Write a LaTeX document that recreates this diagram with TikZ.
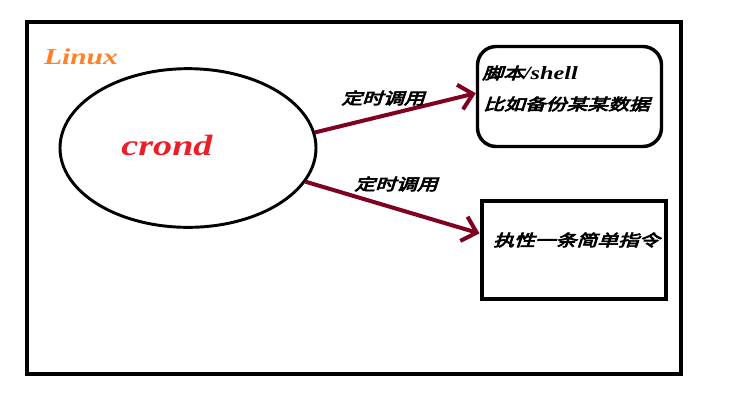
\documentclass[tikz,border=0pt]{standalone}
\usepackage{fontspec}
\setmainfont{Liberation Serif}
\newfontfamily\cjk[FakeSlant=0.25,FakeBold=4]{Noto Sans CJK SC}
\usetikzlibrary{shapes.geometric,arrows.meta}
\definecolor{callred}{RGB}{128,0,32}
\definecolor{linuxorange}{RGB}{255,128,40}
\definecolor{crondred}{RGB}{235,30,40}
\newcommand{\wide}[1]{\scalebox{1.3}[1]{#1}}

\begin{document}
\begin{tikzpicture}[x=0.75pt,y=0.75pt,yscale=-1,xscale=1,
  calltext/.style={inner sep=0.75pt,font=\fontsize{12}{14}\selectfont\cjk},
  call/.style={draw=callred,line width=3pt,-{Straight Barb[length=10pt,width=19pt,line width=3pt]}}]
\useasboundingbox (0,0) rectangle (745,419);

%Shape: Rectangle [id:linux]
\draw [line width=3pt] (27,22) rectangle (681,374) ;

%Shape: Ellipse [id:crond]
\node (crond) [draw,ellipse,line width=2.2pt,minimum width=192pt,minimum height=119pt,inner sep=0pt] at (188,148) {} ;
%Shape: Rounded Rect [id:script]
\node (script) [draw,rounded corners=14pt,line width=2.6pt,minimum width=138pt,minimum height=75pt,inner sep=0pt] at (569.5,96.5) {} ;
%Shape: Rectangle [id:cmd]
\node (cmd) [draw,line width=3pt,minimum width=138pt,minimum height=73pt,inner sep=0pt] at (573.5,250) {} ;

%Straight Lines [id:call1]
\draw [call] (crond.7) -- (script.178) ;
%Straight Lines [id:call2]
\draw [call] (crond.344) -- (cmd.170) ;

% Text Node
\node (linuxlbl) [inner sep=0.75pt,text=linuxorange,font=\fontsize{17}{19}\selectfont\bfseries\itshape] at (81,57) {\wide{Linux}} ;
% Text Node
\node (crondlbl) [inner sep=0.75pt,text=crondred,font=\fontsize{22}{25}\selectfont\bfseries\itshape] at (167,145) {\wide{crond}} ;
% Text Node
\node (call1lbl) [calltext] at (383,98) {\wide{定时调用}} ;
% Text Node
\node (call2lbl) [calltext] at (396,184) {\wide{定时调用}} ;
% Text Node
\node (scriptlbl) [calltext,anchor=west] at (481,73) {\wide{脚本{\fontsize{14}{16}\selectfont\rmfamily\bfseries\itshape /shell}}} ;
% Text Node
\node (backuplbl) [calltext,anchor=west] at (482,104) {\wide{比如备份某某数据}} ;
% Text Node
\node (cmdlbl) [calltext,anchor=west] at (492,240) {\wide{执性一条简单指令}} ;

\end{tikzpicture}
\end{document}
